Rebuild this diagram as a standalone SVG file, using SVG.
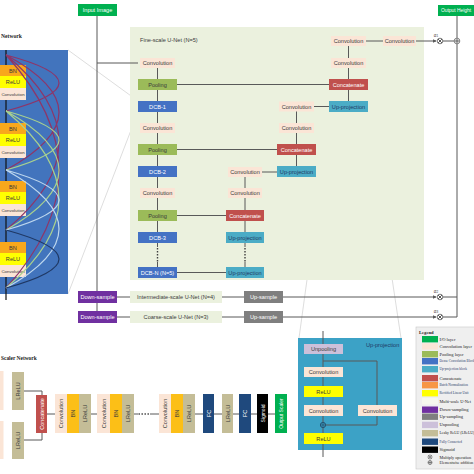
<svg xmlns="http://www.w3.org/2000/svg" width="474" height="474" viewBox="0 0 474 474">
<defs>
<marker id="arr" viewBox="0 0 6 6" refX="5" refY="3" markerWidth="4" markerHeight="4" orient="auto"><path d="M0,0 L6,3 L0,6 z" fill="#595959"/></marker>
<style>
text{font-family:"Liberation Sans",Arial,sans-serif;font-size:5.6px;fill:#3a3a3a;text-anchor:middle;dominant-baseline:central}
.w{fill:#fff}
.ln{stroke:#595959;stroke-width:1;fill:none}
.zl{stroke:#d9d9d9;stroke-width:0.9;fill:none}
.conv{fill:#fbe5d6}
.pool{fill:#9bbb59}
.dcb{fill:#4472c4}
.up{fill:#4bacc6}
.cat{fill:#c0504d}
.io{fill:#00b050}
.ds{fill:#7030a0}
.us{fill:#7f7f7f}
.ms{fill:#ebf1de}
.bn{fill:#f8a81c}
.bn2{fill:#fcbf17}
.relu{fill:#ffff00}
.lrelu{fill:#c4bd97}
.fc{fill:#1f497d}
.unp{fill:#ccc0da}
.dots{stroke:#404040;stroke-width:1.4;stroke-dasharray:1.4 1.6;fill:none}
.sym{stroke:#595959;stroke-width:0.8;fill:#fff}
.cur{fill:none;stroke-width:1.2}
.ser{font-family:"Liberation Serif","Times New Roman",serif}
.sm{font-size:4.4px}
.lg{font-family:"Liberation Serif","Times New Roman",serif;font-size:4.5px;text-anchor:start;fill:#222}
.lgs{font-family:"Liberation Serif","Times New Roman",serif;font-size:3.4px;text-anchor:start;fill:#2a3a6a}
</style>
</defs>
<rect x="0" y="0" width="474" height="474" fill="#fff"/>

<!-- zoom guide lines -->
<g id="zoom-lines">
<path class="zl" d="M68,50 L138,101 M68,294 L138,112"/>
<path class="zl" d="M330,112 L299,338 M367,112 L401,338"/>
</g>

<!-- left dense network panel -->
<g id="dense-network">
<text class="ser" x="1" y="36" style="text-anchor:start;font-weight:bold;font-size:5.6px;fill:#222">Network</text>
<rect x="-2" y="50" width="70" height="244" fill="#4274bd"/>
<line x1="6" y1="50" x2="6" y2="300" stroke="#111" stroke-width="1.2"/>
<g id="dense-g1">
<rect class="bn" x="-14" y="65" width="40" height="11"/><text x="13" y="70.5">BN</text>
<rect class="relu" x="-14" y="76" width="40" height="12"/><text x="13" y="82">ReLU</text>
<rect class="conv" x="-14" y="88" width="40" height="12"/><text class="sm" x="13" y="94">Convolution</text>
</g>
<g id="dense-g2">
<rect class="bn" x="-14" y="123" width="40" height="11"/><text x="13" y="128.5">BN</text>
<rect class="relu" x="-14" y="134" width="40" height="12"/><text x="13" y="140">ReLU</text>
<rect class="conv" x="-14" y="146" width="40" height="12"/><text class="sm" x="13" y="152">Convolution</text>
</g>
<g id="dense-g3">
<rect class="bn" x="-14" y="181" width="40" height="11"/><text x="13" y="186.5">BN</text>
<rect class="relu" x="-14" y="192" width="40" height="12"/><text x="13" y="198">ReLU</text>
<rect class="conv" x="-14" y="204" width="40" height="12"/><text class="sm" x="13" y="210">Convolution</text>
</g>
<g id="dense-g4">
<rect class="bn" x="-14" y="242" width="40" height="11"/><text x="13" y="247.5">BN</text>
<rect class="relu" x="-14" y="253" width="40" height="12"/><text x="13" y="259">ReLU</text>
<rect class="conv" x="-14" y="265" width="40" height="12"/><text class="sm" x="13" y="271">Convolution</text>
</g>
<g id="dense-links">
<path class="cur" stroke="#8e3568" d="M6,55 Q112,83 6,111 M6,55 Q112,112 6,170 M6,55 Q112,142 6,230 M6,55 Q112,171 6,288"/>
<path class="cur" stroke="#a9d18e" d="M6,111 Q112,140 6,170 M6,111 Q112,170 6,230 M6,111 Q112,199 6,288"/>
<path class="cur" stroke="#bdd7ee" d="M6,170 Q112,200 6,230 M6,170 Q112,229 6,288"/>
<path class="cur" stroke="#1f3864" stroke-width="1.5" d="M6,230 Q112,259 6,288"/>
</g>
</g>

<!-- fine-scale panel -->
<g id="fine-unet">
<rect class="ms" x="130" y="27" width="294" height="253"/>
<text x="140" y="40" style="text-anchor:start">Fine-scale U-Net (N=5)</text>
</g>

<!-- connectors -->
<g id="connectors">
<path class="ln" d="M97,16 V291 M97,303 V311 M97,63 H138"/>
<path class="ln" d="M157.5,63 V247 M157.5,262 V267"/>
<path class="dots" d="M157.5,248 V262 M245,248 V262"/>
<path class="ln" d="M245,172 V247 M245,262 V267"/>
<path class="ln" d="M296.5,106 V166 M348.5,41 V101"/>
<path class="ln" d="M177,84.5 H329 M177,149.5 H277 M177,215.5 H226 M177,272.5 H226"/>
<path class="ln" d="M262,172 H277 M314,106.5 H329 M365,41 H383"/>
<path class="ln" d="M416,41 H436" marker-end="url(#arr)"/>
<path class="ln" d="M443,41 H454 M457,16 V38 M457,44 V317"/>
<path class="ln" d="M117,297 H130 M222,297 H244 M117,317 H130 M222,317 H244"/>
<path class="ln" d="M283,297 H436" marker-end="url(#arr)"/>
<path class="ln" d="M283,317 H436" marker-end="url(#arr)"/>
<path class="ln" d="M443,297 H457 M443,317 H457"/>
<!-- scaler network -->
<path class="ln" d="M24,391 H42 V395 M24,440 H42 V433 M47,414 H55 M91,414 H97 M134,414 H138 M150,414 H159 M195,414 H203 M214,414 H222 M233,414 H239 M251,414 H257 M268,414 H275"/>
<path class="dots" d="M138.5,414 H150"/>
</g>

<g id="input-image"><rect class="io" x="78" y="4" width="39" height="12"/><text class="w" x="97.5" y="10">Input Image</text></g>
<g id="output-height"><rect class="io" x="438" y="5" width="36" height="11"/><text class="w" x="456" y="10.5" style="font-size:4.9px">Output Height</text></g>

<!-- encoder -->
<g id="enc-conv1"><rect class="conv" x="140" y="58" width="35" height="10"/><text x="157.5" y="63">Convolution</text></g>
<g id="enc-pool1"><rect class="pool" x="138" y="79" width="39" height="11"/><text x="157.5" y="84.5">Pooling</text></g>
<g id="dcb1"><rect class="dcb" x="138" y="101" width="39" height="11"/><text class="w" x="157.5" y="106.5">DCB-1</text></g>
<g id="enc-conv2"><rect class="conv" x="140" y="123" width="35" height="10"/><text x="157.5" y="128">Convolution</text></g>
<g id="enc-pool2"><rect class="pool" x="138" y="144" width="39" height="11"/><text x="157.5" y="149.5">Pooling</text></g>
<g id="dcb2"><rect class="dcb" x="138" y="166" width="39" height="11"/><text class="w" x="157.5" y="171.5">DCB-2</text></g>
<g id="enc-conv3"><rect class="conv" x="140" y="188" width="35" height="10"/><text x="157.5" y="193">Convolution</text></g>
<g id="enc-pool3"><rect class="pool" x="138" y="210" width="39" height="11"/><text x="157.5" y="215.5">Pooling</text></g>
<g id="dcb3"><rect class="dcb" x="138" y="232" width="39" height="11"/><text class="w" x="157.5" y="237.5">DCB-3</text></g>
<g id="dcbn"><rect class="dcb" x="138" y="267" width="39" height="11"/><text class="w" x="157.5" y="272.5">DCB-N (N=5)</text></g>

<!-- decoder column A -->
<g id="upA2"><rect class="up" x="226" y="267" width="38" height="11"/><text x="245" y="272.5" style="fill:#1f3864">Up-projection</text></g>
<g id="upA1"><rect class="up" x="226" y="232" width="38" height="11"/><text x="245" y="237.5" style="fill:#1f3864">Up-projection</text></g>
<g id="catA"><rect class="cat" x="226" y="210" width="38" height="11"/><text class="w" x="245" y="215.5">Concatenate</text></g>
<g id="convA1"><rect class="conv" x="228" y="188" width="34" height="10"/><text x="245" y="193">Convolution</text></g>
<g id="convA2"><rect class="conv" x="228" y="167" width="34" height="10"/><text x="245" y="172">Convolution</text></g>

<!-- decoder column B -->
<g id="upB"><rect class="up" x="277" y="166" width="39" height="11"/><text x="296.5" y="171.5" style="fill:#1f3864">Up-projection</text></g>
<g id="catB"><rect class="cat" x="277" y="144" width="39" height="11"/><text class="w" x="296.5" y="149.5">Concatenate</text></g>
<g id="convB1"><rect class="conv" x="279" y="123" width="35" height="10"/><text x="296.5" y="128">Convolution</text></g>
<g id="convB2"><rect class="conv" x="279" y="101.5" width="35" height="10"/><text x="296.5" y="106.5">Convolution</text></g>

<!-- decoder column C -->
<g id="upC"><rect class="up" x="329" y="101" width="39" height="11"/><text x="348.5" y="106.5" style="fill:#1f3864">Up-projection</text></g>
<g id="catC"><rect class="cat" x="329" y="79" width="39" height="11"/><text class="w" x="348.5" y="84.5">Concatenate</text></g>
<g id="convC1"><rect class="conv" x="331" y="58" width="35" height="10"/><text x="348.5" y="63">Convolution</text></g>
<g id="convC2"><rect class="conv" x="331" y="36" width="35" height="10"/><text x="348.5" y="41">Convolution</text></g>
<g id="convOut"><rect class="conv" x="383" y="36" width="33" height="10"/><text x="399.5" y="41">Convolution</text></g>

<!-- multi-scale rows -->
<g id="down1"><rect class="ds" x="78" y="291" width="39" height="12"/><text class="w" x="97.5" y="297">Down-sample</text></g>
<g id="down2"><rect class="ds" x="78" y="311" width="39" height="12"/><text class="w" x="97.5" y="317">Down-sample</text></g>
<g id="inter-unet"><rect class="ms" x="130" y="291" width="92" height="12"/><text x="176" y="297">Intermediate-scale U-Net (N=4)</text></g>
<g id="coarse-unet"><rect class="ms" x="130" y="311" width="92" height="12"/><text x="176" y="317">Coarse-scale U-Net (N=3)</text></g>
<g id="up1"><rect class="us" x="244" y="291" width="39" height="12"/><text class="w" x="263.5" y="297">Up-sample</text></g>
<g id="up2"><rect class="us" x="244" y="311" width="39" height="12"/><text class="w" x="263.5" y="317">Up-sample</text></g>

<!-- weights and sums -->
<g id="mul1"><circle class="sym" cx="440" cy="41" r="2.8"/><path class="ln" stroke-width="0.7" d="M438,39 L442,43 M442,39 L438,43"/><text x="436" y="35" style="font-size:4.5px">α<tspan dy="1" style="font-size:3px">1</tspan></text></g>
<g id="add1"><circle class="sym" cx="457" cy="41" r="2.8"/><path class="ln" stroke-width="0.7" d="M455,41 H459 M457,39 V43"/></g>
<g id="mul2"><circle class="sym" cx="440" cy="297" r="2.8"/><path class="ln" stroke-width="0.7" d="M438,295 L442,299 M442,295 L438,299"/><text x="436" y="291" style="font-size:4.5px">α<tspan dy="1" style="font-size:3px">2</tspan></text></g>
<g id="mul3"><circle class="sym" cx="440" cy="317" r="2.8"/><path class="ln" stroke-width="0.7" d="M438,315 L442,319 M442,315 L438,319"/><text x="436" y="311" style="font-size:4.5px">α<tspan dy="1" style="font-size:3px">3</tspan></text></g>

<!-- up-projection detail -->
<g id="upproj-detail">
<rect x="298" y="338" width="104" height="112" fill="#3ca2c6"/>
<path class="ln" d="M323,331 V344 M323,354 V367 M323,377 V386 M323,397 V405 M323,416 V422 M323,428 V433 M323,444 V457 M323,361 H377 V405 M377,416 V425 H326" stroke="#1f3a55"/>
<text x="366" y="344.5" style="text-anchor:start;fill:#1f3864">Up-projection</text>
<g id="unpool"><rect class="unp" x="304" y="344" width="39" height="10"/><text x="323.5" y="349">Unpooling</text></g>
<g id="up-conv1"><rect class="conv" x="304" y="367" width="39" height="10"/><text x="323.5" y="372">Convolution</text></g>
<g id="up-relu1"><rect class="relu" x="304" y="386" width="39" height="11"/><text x="323.5" y="391.5">ReLU</text></g>
<g id="up-conv2"><rect class="conv" x="304" y="405" width="39" height="11"/><text x="323.5" y="410.5">Convolution</text></g>
<g id="up-conv3"><rect class="conv" x="358" y="405" width="39" height="11"/><text x="377.5" y="410.5">Convolution</text></g>
<g id="up-add"><circle class="sym" cx="323" cy="425" r="2.6" style="fill:#3ca2c6;stroke:#1f3a55"/><path stroke="#1f3a55" stroke-width="0.6" d="M321,425 H325 M323,423 V427"/></g>
<g id="up-relu2"><rect class="relu" x="304" y="433" width="39" height="11"/><text x="323.5" y="438.5">ReLU</text></g>
</g>

<!-- scaler network -->
<g id="scaler-network">
<text class="ser" x="1" y="358" style="text-anchor:start;font-weight:bold;font-size:5.4px;fill:#222">Scaler Network</text>
<g id="s-conv-a"><rect class="conv" x="-9" y="371" width="12.5" height="39"/></g>
<g id="s-conv-b"><rect class="conv" x="-9" y="421" width="12.5" height="38"/></g>
<g id="s-lrelu-a"><rect class="lrelu" x="12" y="372" width="12" height="38"/><text transform="translate(18,391) rotate(-90)">LReLU</text></g>
<g id="s-lrelu-b"><rect class="lrelu" x="12" y="422" width="12" height="37"/><text transform="translate(18,440.5) rotate(-90)">LReLU</text></g>
<g id="s-cat"><rect class="cat" x="36" y="395" width="11" height="38"/><text class="w" transform="translate(41.5,414) rotate(-90)">Concatenate</text></g>
<g id="s-b1">
<rect class="conv" x="55" y="394" width="12" height="39"/><text transform="translate(61,413.5) rotate(-90)">Convolution</text>
<rect class="bn2" x="67" y="394" width="12" height="39"/><text transform="translate(73,413.5) rotate(-90)">BN</text>
<rect class="lrelu" x="79" y="394" width="12" height="39"/><text transform="translate(85,413.5) rotate(-90)">LReLU</text>
</g>
<g id="s-b2">
<rect class="conv" x="97" y="394" width="13" height="39"/><text transform="translate(103.5,413.5) rotate(-90)">Convolution</text>
<rect class="bn2" x="110" y="394" width="12" height="39"/><text transform="translate(116,413.5) rotate(-90)">BN</text>
<rect class="lrelu" x="122" y="394" width="12" height="39"/><text transform="translate(128,413.5) rotate(-90)">LReLU</text>
</g>
<g id="s-b3">
<rect class="conv" x="159" y="394" width="12" height="39"/><text transform="translate(165,413.5) rotate(-90)">Convolution</text>
<rect class="bn2" x="171" y="394" width="12" height="39"/><text transform="translate(177,413.5) rotate(-90)">BN</text>
<rect class="lrelu" x="183" y="394" width="12" height="39"/><text transform="translate(189,413.5) rotate(-90)">LReLU</text>
</g>
<g id="s-fc1"><rect class="fc" x="203" y="394" width="11" height="39"/><text class="w" transform="translate(208.5,413.5) rotate(-90)">FC</text></g>
<g id="s-lrelu-c"><rect class="lrelu" x="222" y="394" width="11" height="39"/><text transform="translate(227.5,413.5) rotate(-90)">LReLU</text></g>
<g id="s-fc2"><rect class="fc" x="239" y="394" width="12" height="39"/><text class="w" transform="translate(245,413.5) rotate(-90)">FC</text></g>
<g id="s-sig"><rect x="257" y="394" width="11" height="39" fill="#000"/><text class="w" transform="translate(262.5,413.5) rotate(-90)" style="font-size:5px">Sigmoid</text></g>
<g id="s-out"><rect class="io" x="275" y="394" width="12" height="39"/><text class="w" transform="translate(281,413.5) rotate(-90)" style="font-size:5px">Output Scaler</text></g>
</g>

<!-- legend -->
<g id="legend">
<rect x="416" y="327" width="62" height="142" fill="#efefef" stroke="#c8c8c8" stroke-width="0.6"/>
<text class="ser" x="419" y="332.5" style="text-anchor:start;font-weight:bold;font-size:4.6px;fill:#222">Legend</text>
<rect class="io" x="422" y="336" width="16" height="6.4"/><text class="lg" x="439.5" y="339.2">I/O layer</text>
<rect class="conv" x="422" y="343.2" width="16" height="6.4"/><text class="lg" x="439.5" y="346.4">Convolution layer</text>
<rect class="pool" x="422" y="351" width="16" height="6.4"/><text class="lg" x="439.5" y="354.2">Pooling layer</text>
<rect class="dcb" x="422" y="358" width="16" height="6.4"/><text class="lgs" x="439.5" y="361.2">Dense Convolution Block</text>
<rect class="up" x="422" y="366" width="16" height="6.4"/><text class="lgs" x="439.5" y="369.2">Up-projection block</text>
<rect class="cat" x="422" y="375" width="16" height="6.4"/><text class="lg" x="439.5" y="378.2">Concatenate</text>
<rect x="422" y="382" width="16" height="6.4" fill="#f79646"/><text class="lgs" x="439.5" y="385.2">Batch Normalization</text>
<rect class="relu" x="422" y="390" width="16" height="6.4"/><text class="lgs" x="439.5" y="393.2">Rectified Linear Unit</text>
<rect x="422" y="398" width="16" height="6.4" fill="#f6f8ee"/><text class="lg" x="439.5" y="401.2" style="font-size:4.3px">Multi-scale U-Net</text>
<rect class="ds" x="422" y="406.5" width="16" height="6.4"/><text class="lg" x="439.5" y="409.7">Down-sampling</text>
<rect class="us" x="422" y="413.5" width="16" height="6.4"/><text class="lg" x="439.5" y="416.7">Up-sampling</text>
<rect class="unp" x="422" y="421.7" width="16" height="6.4"/><text class="lg" x="439.5" y="424.9">Unpooling</text>
<rect class="lrelu" x="422" y="430" width="16" height="6.4"/><text class="lg" x="439.5" y="433.2" style="font-size:3.8px">Leaky ReLU (LReLU)</text>
<rect class="fc" x="422" y="438.5" width="16" height="6.4"/><text class="lgs" x="439.5" y="441.7">Fully Connected</text>
<rect x="422" y="446.5" width="16" height="6.4" fill="#000"/><text class="lg" x="439.5" y="449.7">Sigmoid</text>
<circle cx="430" cy="457" r="2" fill="none" stroke="#333" stroke-width="0.5"/><path stroke="#333" stroke-width="0.5" d="M428.6,455.6 L431.4,458.4 M431.4,455.6 L428.6,458.4"/><text class="lg" x="439.5" y="457" style="font-size:4.2px">Multiply operation</text>
<circle cx="430" cy="462.5" r="2" fill="none" stroke="#333" stroke-width="0.5"/><path stroke="#333" stroke-width="0.5" d="M428,462.5 H432 M430,460.5 V464.5"/><text class="lg" x="439.5" y="462.5" style="font-size:3.9px">Elementwise addition</text>
</g>
</svg>
